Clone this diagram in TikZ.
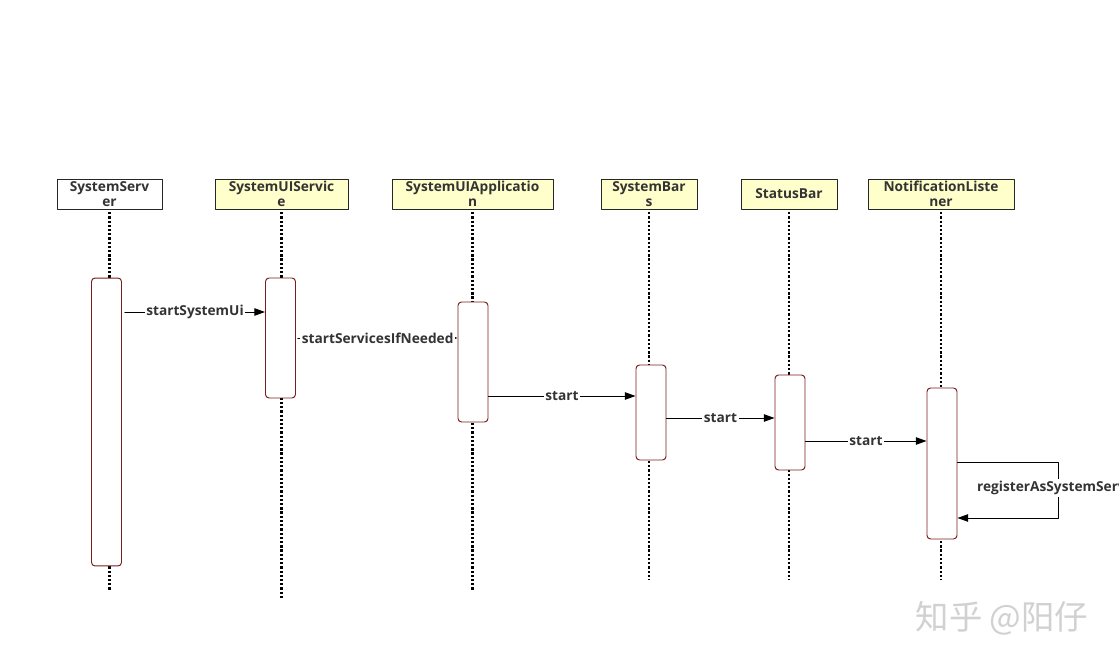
\documentclass[tikz,border=0pt]{standalone}
\usepackage{fontspec}
\setmainfont{Open Sans}
\newfontfamily\cjk{Noto Sans CJK SC}
\usepackage{tikz}
\usetikzlibrary{arrows.meta, shapes, shadows}
\usetikzlibrary{positioning}
\definecolor{headfill}{HTML}{FFFFCC}
\definecolor{actline}{HTML}{7A1E1E}
\definecolor{txtgray}{HTML}{333333}

\begin{document}
\begin{tikzpicture}[line cap=round,line join=round,>={Triangle[length=6pt,width=4.2pt]},x=0.02cm,y=-0.02cm,
  head/.style={draw=black!85, fill=headfill, line width=0.55pt, inner sep=0pt, minimum height=0.6cm, align=center,
    text=txtgray, font=\bfseries\fontsize{7.8pt}{8.6pt}\selectfont,
    drop shadow={shadow xshift=0.7pt, shadow yshift=-0.7pt, fill=black!45, opacity=1}},
  act/.style={draw=actline, fill=white, rounded corners=2pt, minimum width=0.6cm, inner sep=0pt, line width=0.55pt},
  life/.style={line cap=butt, line width=1.4pt, dash pattern=on 1.3pt off 1.1pt},
  msg/.style={->, line width=0.55pt},
  lbl/.style={fill=white, inner sep=1pt, text=txtgray, font=\bfseries\fontsize{7.8pt}{8.6pt}\selectfont}]
\useasboundingbox (0,0) rectangle (1119,665);
\clip (0,0) rectangle (1119,665);
\fill[white] (0,0) rectangle (1119,665);

\node[head, fill=white, minimum width=2.1cm] (hServer) at (109.5,194) {SystemServ\\er};
\node[head, minimum width=2.66cm] (hService) at (281.5,194) {SystemUIServic\\e};
\node[head, minimum width=3.22cm] (hApp) at (472.5,194) {SystemUIApplicatio\\n};
\node[head, minimum width=1.92cm] (hBars) at (649,194) {SystemBar\\s};
\node[head, minimum width=1.92cm] (hStatus) at (789,194) {StatusBar};
\node[head, minimum width=2.92cm] (hListener) at (941,194) {NotificationListe\\ner};

\coordinate (eServer) at (hServer.south |- 0,590);
\coordinate (eService) at (hService.south |- 0,600);
\coordinate (eApp) at (hApp.south |- 0,590);
\coordinate (eBars) at (hBars.south |- 0,580);
\coordinate (eStatus) at (hStatus.south |- 0,580);
\coordinate (eListener) at (hListener.south |- 0,580);
\foreach \l in {Server,Service,App,Bars,Status,Listener}
  \draw[life] ([yshift=-1.5pt]h\l.south) -- (e\l);

\node[act, minimum height=5.76cm] (aServer) at (106.5,422) {};
\node[act, minimum height=2.4cm] (aService) at (280.5,338) {};
\node[act, minimum height=2.4cm] (aApp) at (473,362) {};
\node[act, minimum height=1.9cm] (aBars) at (651,412.5) {};
\node[act, minimum height=1.9cm] (aStatus) at (790,422.5) {};
\node[act, minimum height=3.02cm] (aListener) at (942,463.5) {};

\draw[msg] ([xshift=1.7pt]aServer.east |- 0,312) -- node[lbl] {startSystemUi} (aService.west |- 0,312);
\draw[msg] ([xshift=1pt]aService.east |- 0,338) -- node[lbl] {startServicesIfNeeded} (aApp.west |- 0,338);
\draw[msg] (aApp.east |- 0,396) -- node[lbl] {start} (aBars.west |- 0,396);
\draw[msg] (aBars.east |- 0,418) -- node[lbl] {start} (aStatus.west |- 0,418);
\draw[msg] (aStatus.east |- 0,441) -- node[lbl] {start} (aListener.west |- 0,441);

\coordinate (loopA) at (1058,462);
\coordinate (loopB) at (1058,518);
\draw[msg] (aListener.east |- loopA) -- (loopA) -- (loopB) -- (aListener.east |- loopB);
\node[lbl, anchor=west] (lRegister) at (975,488) {registerAsSystemService};

\node[text=black!18, font=\cjk\fontsize{19pt}{19pt}\selectfont] (mark) at (1002,618) {知乎 @阳仔};
\end{tikzpicture}
\end{document}
